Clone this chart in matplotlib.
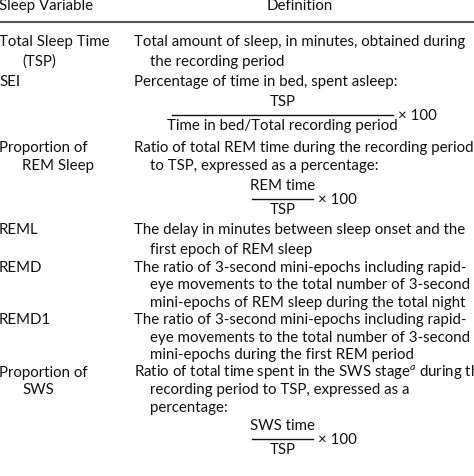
import matplotlib
matplotlib.use("Agg")
import matplotlib.pyplot as plt

W, H = 474, 476
FAM = "Lato"
FS = 10.8
plt.rcParams["mathtext.fontset"] = "custom"
plt.rcParams["mathtext.rm"] = "Lato"
plt.rcParams["mathtext.it"] = "Lato:italic"

header = ["Sleep Variable", "Definition"]
left_col = [
    ("Total Sleep Time", -1, 42), ("(TSP)", 22, 62), ("SEI", -1, 82),
    ("Proportion of", -1, 148), ("REM Sleep", 22, 166), ("REML", -1, 230),
    ("REMD", -1, 268), ("REMD1", -1, 320), ("Proportion of", -1, 373), ("SWS", 22, 390),
]
right_col = [
    ("Total amount of sleep, in minutes, obtained during", 134, 42),
    ("the recording period", 150, 62),
    ("Percentage of time in bed, spent asleep:", 134, 82),
    ("Ratio of total REM time during the recording period", 134, 148),
    ("to TSP, expressed as a percentage:", 150, 166),
    ("The delay in minutes between sleep onset and the", 134, 230),
    ("first epoch of REM sleep", 150, 250),
    ("The ratio of 3-second mini-epochs including rapid-", 134, 268),
    ("eye movements to the total number of 3-second", 150, 285),
    ("mini-epochs of REM sleep during the total night", 150, 303),
    ("The ratio of 3-second mini-epochs including rapid-", 134, 320),
    ("eye movements to the total number of 3-second", 150, 338),
    ("mini-epochs during the first REM period", 150, 355),
    (r"Ratio of total time spent in the SWS stage$^{\it a}$ during the", 134, 373),
    ("recording period to TSP, expressed as a", 150, 390),
    ("percentage:", 150, 408),
]
fractions = [
    ("TSP", "Time in bed/Total recording period", 172, 393, 115),
    ("REM time", "TSP", 252, 313, 199),
    ("SWS time", "TSP", 252, 313, 439),
]

fig = plt.figure(figsize=(W/100, H/100), dpi=100)
ax = fig.add_axes([0, 0, 1, 1])
ax.set_xlim(0, W); ax.set_ylim(H, 0); ax.axis("off")

kw = dict(family=FAM, fontsize=FS, va="center", color="#111111")
ax.text(-1, 6, header[0], ha="left", **kw)
ax.text(300, 6, header[1], ha="center", **kw)
ax.plot([0, W], [22, 22], color="#555555", lw=1.5)

for t, x, y in left_col:
    ax.text(x, y, t, ha="left", **kw)
for t, x, y in right_col:
    ax.text(x, y, t, ha="left", **kw)
for num, den, x0, x1, yl in fractions:
    xc = (x0 + x1) / 2
    ax.plot([x0, x1], [yl, yl], color="#111111", lw=1)
    ax.text(xc, yl - 13, num, ha="center", **kw)
    ax.text(xc, yl + 11, den, ha="center", **kw)
    ax.text(x1 + 5, yl + 1, "× 100", ha="left", **kw)

fig.savefig("out.png", dpi=100)
